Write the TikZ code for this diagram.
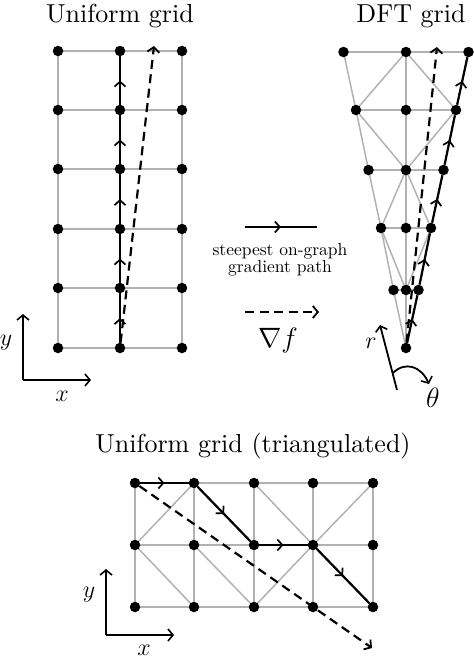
\RequirePackage{fix-cm}
\documentclass[tikz,border=0pt]{standalone}
\usepackage{fontspec}
\setmainfont{lmroman10-regular.otf}
\usetikzlibrary{arrows.meta,decorations.markings}
\pgfdeclarelayer{bg}
\pgfsetlayers{bg,main}
\begin{document}
\begin{tikzpicture}[x=1pt,y=-1pt,
  dot/.style={circle,fill=black,inner sep=0pt,minimum size=10.5pt},
  edge/.style={draw=black!30,line width=1.5pt},
  gpath/.style={line width=2.2pt,postaction={decorate},decoration={markings,mark=at position 0.5 with {\arrow{Straight Barb[length=5pt,width=11pt,line width=1.7pt]}}}},
  dpath/.style={line width=2.2pt,dash pattern=on 9pt off 5.5pt,-{Straight Barb[length=5pt,width=12pt,line width=1.8pt]}},
  axis/.style={line width=1.8pt,-{Straight Barb[length=5pt,width=12pt,line width=1.6pt]}},
  title/.style={font=\fontsize{26}{30}\selectfont,anchor=base,inner sep=0pt},
  lab/.style={font=\fontsize{24}{28}\selectfont,inner sep=0pt},
]
\useasboundingbox (0,0) rectangle (474,659);

% ---------- titles ----------
\node[title] (t1) at (120,22) {Uniform grid};
\node[title] (t2) at (411,22) {DFT grid};
\node[title] (t3) at (253,452) {Uniform grid (triangulated)};

% ---------- uniform grid ----------
\foreach \c/\x in {0/58,1/120,2/182}
  \foreach \r/\y in {0/51,1/110,2/169,3/229,4/288,5/348}
    \node[dot] (u\c\r) at (\x,\y) {};
\begin{pgfonlayer}{bg}
\foreach \r in {0,...,5} \draw[edge] (u0\r.center) -- (u1\r.center) -- (u2\r.center);
\foreach \c in {0,1,2} \draw[edge] (u\c0.center) -- (u\c5.center);
\end{pgfonlayer}
\foreach \r/\s in {5/4,4/3,3/2,2/1,1/0} \draw[gpath] (u1\r) -- (u1\s);
\coordinate (utip) at (154,46);
\draw[dpath] (u15) -- (utip);

% axes top-left
\coordinate (ao) at (23,380);
\coordinate (ay) at (23,314);
\coordinate (ax) at (91,380);
\draw[axis] (ao) -- (ay);
\draw[axis] (ao) -- (ax);
\node[lab] (ly) at (6,343) {$y$};
\node[lab] (lx) at (62,396) {$x$};

% ---------- legend ----------
\coordinate (l1) at (245,227);
\coordinate (l2) at (317,227);
\draw[gpath] (l1) -- (l2);
\node[font=\fontsize{17.5}{17}\selectfont,align=center,anchor=north,inner sep=0pt] (legtxt) at (280,243) {steepest on-graph\\gradient path};
\coordinate (d1) at (245,312);
\coordinate (d2) at (319,312);
\draw[dpath] (d1) -- (d2);
\node[font=\fontsize{28}{32}\selectfont,inner sep=0pt] (nab) at (278,340) {$\nabla f$};

% ---------- DFT grid ----------
\foreach \r/\y in {0/52,1/110,2/170,3/228,4/290}{
  \pgfmathsetmacro{\w}{12.5*(5-\r)}
  \node[dot] (d0\r) at (406-\w,\y) {};
  \node[dot] (d1\r) at (406,\y) {};
  \node[dot] (d2\r) at (406+\w,\y) {};
}
\node[dot] (d15) at (406,348) {};
\begin{pgfonlayer}{bg}
\foreach \r in {0,...,4} \draw[edge] (d0\r.center) -- (d1\r.center) -- (d2\r.center);
\draw[edge] (d00.center) -- (d01.center) -- (d02.center) -- (d03.center) -- (d04.center) -- (d15.center);
\draw[edge] (d20.center) -- (d21.center) -- (d22.center) -- (d23.center) -- (d24.center) -- (d15.center);
\draw[edge] (d10.center) -- (d15.center);
\draw[edge] (d01.center) -- (d10.center) -- (d21.center);
\draw[edge] (d01.center) -- (d12.center) -- (d21.center);
\draw[edge] (d03.center) -- (d12.center) -- (d23.center);
\draw[edge] (d03.center) -- (d14.center) -- (d23.center);
\end{pgfonlayer}
\draw[gpath] (d15) -- (d24);
\draw[gpath] (d24) -- (d23);
\draw[gpath] (d23) -- (d22);
\draw[gpath] (d22) -- (d21);
\draw[gpath] (d21) -- (d20);
\coordinate (dtip) at (437,47);
\draw[dpath] (d15) -- (dtip);

% r / theta
\coordinate (rs) at (397,390);
\coordinate (re) at (380,325);
\draw[axis] (rs) -- (re);
\node[lab] (lr) at (371,343) {$r$};
\coordinate (th1) at (393,373);
\coordinate (th2) at (429,384);
\draw[axis] (th1) .. controls (405,361) and (421,366) .. (th2);
\node[font=\fontsize{28}{32}\selectfont,inner sep=0pt] (lth) at (433,398) {$\theta$};

% ---------- triangulated grid ----------
\foreach \c/\x in {0/135,1/194,2/254,3/313,4/373}
  \foreach \r/\y in {0/483,1/545,2/607}
    \node[dot] (t\c\r) at (\x,\y) {};
\begin{pgfonlayer}{bg}
\foreach \r in {0,1,2} \draw[edge] (t0\r.center) -- (t4\r.center);
\foreach \c in {0,...,4} \draw[edge] (t\c0.center) -- (t\c2.center);
\draw[edge] (t10.center) -- (t01.center);
\draw[edge] (t10.center) -- (t21.center);
\draw[edge] (t20.center) -- (t31.center);
\draw[edge] (t40.center) -- (t31.center);
\draw[edge] (t01.center) -- (t12.center);
\draw[edge] (t11.center) -- (t22.center);
\draw[edge] (t31.center) -- (t22.center);
\draw[edge] (t31.center) -- (t42.center);
\end{pgfonlayer}
\draw[gpath] (t00) -- (t10);
\draw[gpath] (t10) -- (t21);
\draw[gpath] (t21) -- (t31);
\draw[gpath] (t31) -- (t42);
\coordinate (ttip) at (372,648);
\draw[dpath] (t00) -- (ttip);

% axes bottom
\coordinate (bo) at (106,635);
\coordinate (by) at (106,569);
\coordinate (bx) at (174,635);
\draw[axis] (bo) -- (by);
\draw[axis] (bo) -- (bx);
\node[lab] (bly) at (89,595) {$y$};
\node[lab] (blx) at (144,650) {$x$};
\end{tikzpicture}
\end{document}
